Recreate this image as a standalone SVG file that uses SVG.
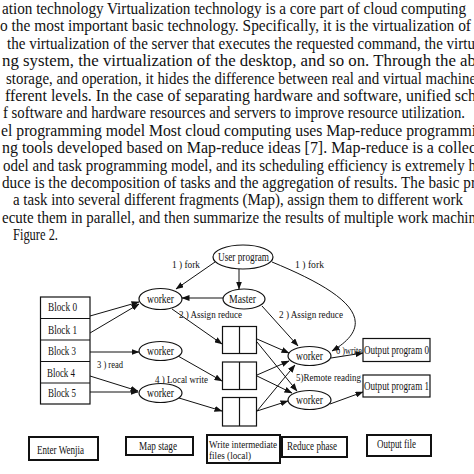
<svg xmlns="http://www.w3.org/2000/svg" width="474" height="474" viewBox="0 0 474 474">
<style>
text{font-family:"Liberation Serif","Times New Roman",serif;fill:#111}
.p{font-size:16.5px}
.n{font-size:12px}
.w{font-size:10.5px}
.l{font-size:11px}
.s{fill:#fff;stroke:#111;stroke-width:1.2}
.lg{fill:#fff;stroke:#111;stroke-width:2}
.c{fill:none;stroke:#111;stroke-width:1;marker-end:url(#ah)}
</style>
<defs>
<marker id="ah" markerWidth="8" markerHeight="6" refX="7.5" refY="3" orient="auto" markerUnits="userSpaceOnUse"><path d="M0,0 L8,3 L0,6 z" fill="#111"/></marker>
</defs>
<rect width="474" height="474" fill="#fff"/>
<g id="paragraph">
<text class="p" x="2" y="14" textLength="464" lengthAdjust="spacingAndGlyphs">ation technology Virtualization technology is a core part of cloud computing</text>
<text class="p" x="0" y="31.4" textLength="471" lengthAdjust="spacingAndGlyphs">o the most important basic technology. Specifically, it is the virtualization of</text>
<text class="p" x="7" y="48.8" textLength="468" lengthAdjust="spacingAndGlyphs">the virtualization of the server that executes the requested command, the virtu</text>
<text class="p" x="2" y="66.1" textLength="474" lengthAdjust="spacingAndGlyphs">ng system, the virtualization of the desktop, and so on. Through the ab</text>
<text class="p" x="6" y="83.5" textLength="470" lengthAdjust="spacingAndGlyphs">storage, and operation, it hides the difference between real and virtual machine</text>
<text class="p" x="5" y="100.9" textLength="471" lengthAdjust="spacingAndGlyphs">fferent levels. In the case of separating hardware and software, unified sch</text>
<text class="p" x="3" y="118.3" textLength="462" lengthAdjust="spacingAndGlyphs">f software and hardware resources and servers to improve resource utilization.</text>
<text class="p" x="1" y="135.7" textLength="475" lengthAdjust="spacingAndGlyphs">el programming model Most cloud computing uses Map-reduce programmi</text>
<text class="p" x="2" y="153.1" textLength="474" lengthAdjust="spacingAndGlyphs">ng tools developed based on Map-reduce ideas [7]. Map-reduce is a collec</text>
<text class="p" x="3" y="170.5" textLength="473" lengthAdjust="spacingAndGlyphs">odel and task programming model, and its scheduling efficiency is extremely h</text>
<text class="p" x="2" y="187.8" textLength="474" lengthAdjust="spacingAndGlyphs">duce is the decomposition of tasks and the aggregation of results. The basic pr</text>
<text class="p" x="13" y="205.2" textLength="450" lengthAdjust="spacingAndGlyphs">a task into several different fragments (Map), assign them to different work</text>
<text class="p" x="2" y="222.6" textLength="474" lengthAdjust="spacingAndGlyphs">ecute them in parallel, and then summarize the results of multiple work machin</text>
<text class="p" x="13" y="240" textLength="45" lengthAdjust="spacingAndGlyphs">Figure 2.</text>
</g>
<g id="connectors">
<path class="c" d="M239,269 L239,289"/>
<path class="c" d="M215,262 L176,289"/>
<path class="c" d="M272,262 C340,290 385,320 332,351"/>
<path class="c" d="M223,298 L182,298"/>
<path class="c" d="M262,306 L298,346"/>
<path class="c" d="M90,316 L139,302"/>
<path class="c" d="M90,333 L139,304"/>
<path class="c" d="M90,352 L139,352"/>
<path class="c" d="M90,376 L138,391"/>
<path class="c" d="M90,392 L138,392"/>
<path class="c" d="M172,309 L222,344"/>
<path class="c" d="M178,356 L222,381"/>
<path class="c" d="M179,398 L222,411"/>
<path class="c" d="M257,339 L289,353"/>
<path class="c" d="M257,342 L297,391"/>
<path class="c" d="M257,375 L289,361"/>
<path class="c" d="M257,376 L292,393"/>
<path class="c" d="M257,411 L295,365"/>
<path class="c" d="M257,411 L288,401"/>
<path class="c" d="M331,358 L363,353"/>
<path class="c" d="M330,404 L363,392"/>
</g>
<g id="edge-labels">
<text class="l" x="172" y="268" textLength="28" lengthAdjust="spacingAndGlyphs">1 ) fork</text>
<text class="l" x="295" y="268" textLength="29" lengthAdjust="spacingAndGlyphs">1 ) fork</text>
<text class="l" x="179" y="318" textLength="63" lengthAdjust="spacingAndGlyphs">2 ) Assign reduce</text>
<text class="l" x="279" y="318" textLength="64" lengthAdjust="spacingAndGlyphs">2 ) Assign reduce</text>
<text class="l" x="97" y="368" textLength="26" lengthAdjust="spacingAndGlyphs">3 ) read</text>
<text class="l" x="155" y="383" textLength="53" lengthAdjust="spacingAndGlyphs">4 ) Local write</text>
<text class="l" x="296" y="381" textLength="65" lengthAdjust="spacingAndGlyphs">5)Remote reading</text>
<text class="l" x="336" y="354" textLength="26" lengthAdjust="spacingAndGlyphs">6 )write</text>
</g>
<g id="user-program"><ellipse class="s" cx="243" cy="257" rx="30" ry="12"/><text class="n" x="218" y="261" textLength="51" lengthAdjust="spacingAndGlyphs">User program</text></g>
<g id="master"><ellipse class="s" cx="244" cy="299" rx="21" ry="10"/><text class="n" x="229" y="303" textLength="27" lengthAdjust="spacingAndGlyphs">Master</text></g>
<g id="worker-1"><ellipse class="s" cx="160.5" cy="299" rx="21.5" ry="10.5"/><text class="n" x="147" y="303" textLength="27" lengthAdjust="spacingAndGlyphs">worker</text></g>
<g id="worker-2"><ellipse class="s" cx="160.5" cy="351" rx="21.5" ry="9.5"/><text class="n" x="147" y="355" textLength="27" lengthAdjust="spacingAndGlyphs">worker</text></g>
<g id="worker-3"><ellipse class="s" cx="160.5" cy="393" rx="21.5" ry="9.5"/><text class="n" x="147" y="397" textLength="27" lengthAdjust="spacingAndGlyphs">worker</text></g>
<g id="worker-4"><ellipse class="s" cx="309.5" cy="356" rx="21.5" ry="9.5"/><text class="n" x="296" y="360" textLength="27" lengthAdjust="spacingAndGlyphs">worker</text></g>
<g id="worker-5"><ellipse class="s" cx="309.5" cy="400" rx="21.5" ry="9.5"/><text class="n" x="296" y="404" textLength="27" lengthAdjust="spacingAndGlyphs">worker</text></g>
<g id="blocks">
<rect class="s" x="40.5" y="297" width="49.5" height="107"/>
<path d="M40.5,318.5 H90 M40.5,340 H90 M40.5,361.5 H90 M40.5,383 H90" stroke="#111" stroke-width="1.2"/>
<text class="n" x="48" y="311" textLength="29" lengthAdjust="spacingAndGlyphs">Block 0</text>
<text class="n" x="48" y="334" textLength="29" lengthAdjust="spacingAndGlyphs">Block 1</text>
<text class="n" x="48" y="355" textLength="28" lengthAdjust="spacingAndGlyphs">Block 3</text>
<text class="n" x="47" y="377" textLength="28" lengthAdjust="spacingAndGlyphs">Block 4</text>
<text class="n" x="48" y="397" textLength="28" lengthAdjust="spacingAndGlyphs">Block 5</text>
</g>
<g id="intermediate-1"><rect class="s" x="222.5" y="326.5" width="34" height="27"/><path d="M239.5,326.5 V353.5" stroke="#111" stroke-width="1.2"/></g>
<g id="intermediate-2"><rect class="s" x="222.5" y="362" width="34" height="27.5"/><path d="M239.5,362 V389.5" stroke="#111" stroke-width="1.2"/></g>
<g id="intermediate-3"><rect class="s" x="222.5" y="397.5" width="34" height="28.5"/><path d="M239.5,397.5 V426" stroke="#111" stroke-width="1.2"/></g>
<g id="output-0"><rect class="s" x="363" y="338.5" width="67" height="23"/><text class="n" x="364" y="354" textLength="65" lengthAdjust="spacingAndGlyphs">Output program 0</text></g>
<g id="output-1"><rect class="s" x="363" y="375" width="67" height="22"/><text class="n" x="364" y="390" textLength="65" lengthAdjust="spacingAndGlyphs">Output program 1</text></g>
<g id="legend-enter"><rect class="lg" x="29" y="437" width="69" height="23"/><text class="n" x="37" y="454" textLength="47" lengthAdjust="spacingAndGlyphs">Enter Wenjia</text></g>
<g id="legend-map"><rect class="lg" x="126" y="437" width="67" height="18"/><text class="n" x="139" y="450" textLength="38" lengthAdjust="spacingAndGlyphs">Map stage</text></g>
<g id="legend-write"><rect class="lg" x="207" y="435" width="73" height="28"/><text class="w" x="209" y="448" textLength="68" lengthAdjust="spacingAndGlyphs">Write intermediate</text><text class="w" x="209" y="459" textLength="42" lengthAdjust="spacingAndGlyphs">files (local)</text></g>
<g id="legend-reduce"><rect class="lg" x="282" y="437" width="65" height="20"/><text class="n" x="287" y="450" textLength="50" lengthAdjust="spacingAndGlyphs">Reduce phase</text></g>
<g id="legend-output"><rect class="lg" x="367" y="435" width="64" height="21"/><text class="n" x="377" y="448" textLength="39" lengthAdjust="spacingAndGlyphs">Output file</text></g>
</svg>
